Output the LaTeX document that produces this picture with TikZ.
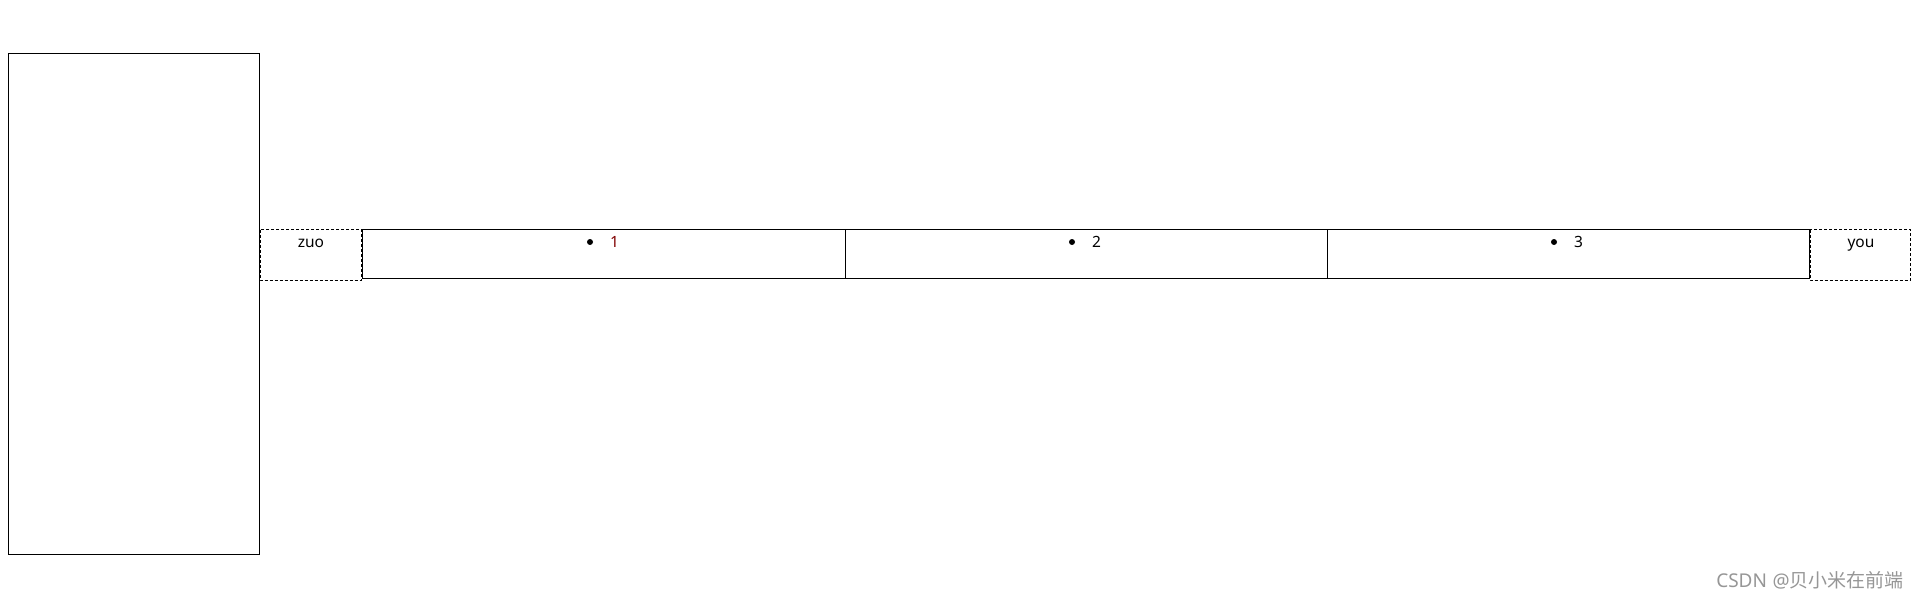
\documentclass[tikz,border=0pt]{standalone}
\usepackage{fontspec}
\setmainfont{Noto Sans}
\newfontfamily\cjkfont{Noto Sans CJK SC}
\definecolor{itemred}{RGB}{128,0,0}
\definecolor{wmgray}{RGB}{150,150,150}
\begin{document}
\begin{tikzpicture}[x=1pt,y=-1pt,
  solidbox/.style={draw=black,line width=1pt},
  dashbox/.style={draw=black,line width=1pt,dash pattern=on 3pt off 2pt},
  lbl/.style={font=\fontsize{15.5}{18}\selectfont,inner sep=0pt,anchor=base},
  dotmark/.style={circle,fill=black,inner sep=0pt,minimum size=6pt}]
\useasboundingbox (0,0) rectangle (1920,602);
% big left box
\draw[solidbox] (8.5,53.5) rectangle (259.5,554.5);
% zuo box
\draw[dashbox] (260,229.5) rectangle (361.5,280);
\node[lbl] (zuo) at (311,247) {zuo};
% item boxes
\draw[solidbox] (362,229.5) rectangle (845,278.5);
\draw[solidbox] (845,229.5) rectangle (1327,278.5);
\draw[solidbox] (1327,229.5) rectangle (1809,278.5);
\node[dotmark] (d1) at (590,242) {};
\node[lbl,anchor=base west,text=itemred] (t1) at (610,247) {1};
\node[dotmark] (d2) at (1072,242) {};
\node[lbl,anchor=base west] (t2) at (1092,247) {2};
\node[dotmark] (d3) at (1554,242) {};
\node[lbl,anchor=base west] (t3) at (1574,247) {3};
% you box
\draw[dashbox] (1810,229.5) rectangle (1910.5,280);
\node[lbl] (you) at (1861,247) {you};
% watermark
\node[font=\fontsize{19}{22}\selectfont,text=wmgray,inner sep=0pt,anchor=base east] (wm) at (1904,587) {CSDN\hspace{0.3em}@{\cjkfont 贝小米在前端}};
\end{tikzpicture}
\end{document}
